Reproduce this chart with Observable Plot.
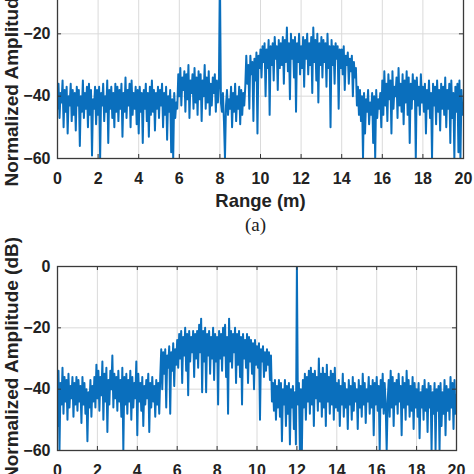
<!DOCTYPE html>
<html><head><meta charset="utf-8">
<script src="https://cdn.jsdelivr.net/npm/d3@7"></script>
<script src="https://cdn.jsdelivr.net/npm/@observablehq/plot@0.6"></script>
<style>
body{margin:0;background:#fff}
#c{position:relative;width:474px;height:474px;overflow:hidden;background:#fff}
#c svg{position:absolute;left:0}
</style>
</head><body><div id="c"></div>
<script>
// Range samples every 0.05 m from 0 to 20 m (one row per metre)
const rangeStep = 0.05;

// Panel (a): normalized amplitude (dB), target spike at 8 m
const ampA = [
 -44,-36,-47,-39,-42,-35,-50,-38,-45,-37,-52,-40,-43,-36,-48,-38,-46,-39,-51,-37,
 -43,-38,-56,-40,-45,-35,-47,-39,-44,-37,-50,-36,-46,-38,-59,-41,-44,-37,-49,-38,
 -46,-37,-60,-39,-43,-36,-48,-40,-45,-35,-55,-38,-44,-37,-47,-39,-50,-36,-45,-37,
 -48,-38,-44,-36,-53,-39,-45,-34,-47,-38,-43,-36,-50,-35,-46,-39,-44,-37,-49,-38,
 -52,-37,-45,-39,-55,-38,-44,-36,-48,-39,-53,-37,-46,-35,-45,-38,-51,-39,-44,-37,
 -47,-38,-43,-36,-50,-39,-46,-37,-54,-40,-45,-38,-58,-41,-60,-39,-47,-42,-44,-33,
 -40,-31,-43,-34,-38,-32,-45,-33,-41,-30,-47,-35,-39,-33,-44,-31,-42,-34,-46,-32,
 -41,-33,-48,-35,-40,-30,-44,-34,-42,-32,-46,-36,-43,-34,-39,-33,-45,-35,-42,-37,
 0,-42,-45,-39,-48,-60,-43,-38,-46,-41,-44,-37,-50,-39,-45,-36,-48,-40,-44,-37,
 -49,-38,-46,-39,-43,-37,-27,-36,-30,-44,-27,-33,-29,-48,-28,-35,-26,-52,-27,-31,
 -25,-34,-24,-29,-23,-40,-25,-31,-22,-46,-24,-30,-23,-35,-21,-28,-24,-38,-22,-31,
 -23,-30,-21,-36,-22,-29,-18,-32,-23,-41,-20,-28,-22,-34,-21,-45,-23,-29,-20,-33,
 -24,-31,-21,-37,-22,-28,-20,-33,-23,-30,-21,-39,-18,-29,-22,-35,-20,-42,-23,-30,
 -21,-34,-22,-29,-23,-37,-20,-31,-24,-50,-22,-30,-24,-36,-23,-28,-24,-44,-25,-31,
 -25,-33,-24,-38,-27,-30,-26,-36,-28,-32,-27,-40,-29,-34,-31,-43,-37,-46,-38,-48,
 -40,-60,-39,-52,-41,-45,-38,-49,-42,-46,-39,-55,-40,-60,-38,-47,-41,-44,-39,-50,
 -35,-46,-32,-43,-36,-48,-33,-41,-35,-52,-32,-44,-37,-40,-34,-47,-31,-43,-36,-45,
 -33,-49,-35,-42,-32,-46,-34,-55,-36,-44,-33,-41,-35,-60,-34,-43,-37,-46,-33,-42,
 -37,-45,-36,-52,-38,-44,-35,-47,-39,-60,-36,-43,-37,-49,-35,-45,-38,-51,-36,-44,
 -37,-46,-34,-50,-38,-44,-36,-55,-35,-47,-39,-60,-37,-45,-36,-58,-35,-60,-38,-46,
 -44
];

// Panel (b): normalized amplitude (dB), target spike at 12 m
const ampB = [
 -52,-34,-60,-38,-45,-33,-48,-36,-44,-37,-50,-35,-46,-39,-43,-36,-49,-38,-45,-36,
 -47,-37,-44,-39,-51,-36,-45,-38,-48,-40,-57,-41,-46,-37,-49,-39,-44,-36,-46,-32,
 -43,-34,-47,-36,-42,-31,-50,-35,-44,-33,-54,-37,-45,-34,-40,-29,-46,-35,-43,-36,
 -47,-34,-44,-37,-49,-33,-60,-36,-45,-35,-48,-37,-44,-34,-50,-36,-46,-38,-43,-31,
 -55,-35,-44,-38,-47,-36,-52,-39,-45,-37,-43,-35,-54,-38,-46,-36,-44,-39,-49,-37,
 -45,-38,-48,-36,-27,-40,-28,-35,-27,-46,-29,-33,-26,-48,-28,-34,-25,-39,-27,-32,
 -24,-33,-22,-30,-21,-38,-23,-29,-20,-34,-22,-42,-21,-31,-23,-28,-21,-36,-22,-30,
 -21,-33,-19,-28,-17,-41,-21,-31,-20,-41,-22,-29,-21,-35,-23,-30,-20,-37,-22,-31,
 -23,-45,-21,-30,-22,-34,-20,-29,-19,-36,-23,-48,-17,-31,-21,-33,-22,-28,-20,-38,
 -22,-32,-21,-36,-23,-45,-22,-30,-24,-33,-22,-38,-23,-31,-24,-35,-25,-40,-24,-32,
 -26,-33,-25,-50,-27,-31,-26,-36,-28,-34,-27,-32,-28,-37,-29,-44,-38,-47,-37,-50,
 -39,-46,-37,-49,-38,-57,-40,-45,-37,-52,-39,-48,-38,-58,-40,-46,-39,-53,-41,-58,
 0,-45,-38,-60,-40,-60,-37,-46,-35,-50,-36,-44,-34,-48,-33,-45,-35,-52,-34,-43,
 -36,-47,-30,-44,-35,-49,-33,-46,-35,-52,-32,-44,-36,-48,-34,-45,-35,-50,-33,-46,
 -38,-47,-37,-52,-39,-45,-35,-49,-38,-46,-40,-53,-37,-45,-39,-50,-36,-47,-38,-44,
 -40,-53,-37,-46,-39,-49,-35,-45,-38,-51,-40,-44,-36,-48,-39,-46,-37,-55,-38,-45,
 -36,-47,-39,-60,-37,-46,-35,-48,-38,-45,-60,-44,-37,-49,-34,-46,-36,-52,-38,-45,
 -37,-48,-35,-44,-39,-55,-36,-46,-38,-50,-34,-45,-37,-49,-39,-47,-36,-53,-38,-46,
 -40,-49,-38,-56,-41,-46,-39,-50,-37,-47,-40,-54,-38,-46,-39,-60,-41,-48,-38,-60,
 -40,-47,-39,-60,-38,-52,-41,-48,-37,-55,-39,-47,-40,-50,-36,-46,-38,-53,-37,-48,
 -42
];

const xTicks = [0,2,4,6,8,10,12,14,16,18,20];
const yTicks = [-60,-40,-20,0];
const xLabel = "Range (m)";
const yLabel = "Normalized Amplitude (dB)";
const captionA = "(a)";

function panel(amp, o) {
  const data = amp.map((v, i) => ({range: +(i * rangeStep).toFixed(2), amp: v}));
  const marks = [
    Plot.gridX(xTicks, {stroke: "#dadada", strokeOpacity: 1, strokeWidth: 1}),
    Plot.gridY(yTicks, {stroke: "#dadada", strokeOpacity: 1, strokeWidth: 1}),
    Plot.line(data, {x: "range", y: "amp", stroke: "#0a6fbd", strokeWidth: 2, clip: true}),
    Plot.ruleX(xTicks, {y1: -60, y2: -60 + o.tickY, stroke: "#333"}),
    Plot.ruleX(xTicks, {y1: 0, y2: -o.tickY, stroke: "#333"}),
    Plot.ruleY(yTicks, {x1: 0, x2: 0.2, stroke: "#333"}),
    Plot.ruleY(yTicks, {x1: 20, x2: 19.8, stroke: "#333"}),
    Plot.frame({stroke: "#3a3a3a", strokeWidth: 1.3}),
    Plot.axisX(xTicks, {tickSize: 0, tickPadding: 14, fontSize: 16, fontWeight: "bold", label: null}),
    Plot.axisY(yTicks, {tickSize: 0, tickPadding: 7, fontSize: 16, fontWeight: "bold", label: null}),
    Plot.text([yLabel], {frameAnchor: "left", textAnchor: "middle", rotate: -90, dx: -40, lineAnchor: "bottom", fontSize: 19, fontWeight: "bold"})
  ];
  if (o.caption) {
    marks.push(Plot.text([xLabel], {frameAnchor: "bottom", textAnchor: "middle", dy: 48, lineAnchor: "bottom", fontSize: 18.5, fontWeight: "bold"}));
    marks.push(Plot.text([o.caption], {frameAnchor: "bottom", textAnchor: "middle", dx: -5, dy: 72, lineAnchor: "bottom", fontSize: 19, fontFamily: "Liberation Serif, Times New Roman, serif"}));
  }
  const svg = Plot.plot({
    width: 474,
    height: o.height,
    marginTop: 10,
    marginLeft: 57,
    marginRight: o.marginRight,
    marginBottom: o.marginBottom,
    x: {domain: [0, 20], axis: null},
    y: {domain: [-60, 0], axis: null},
    style: {fontFamily: "Liberation Sans, Arial, sans-serif", color: "#222", background: "transparent", overflow: "visible"},
    marks
  });
  svg.style.top = o.top + "px";
  return svg;
}

const c = document.getElementById("c");
c.appendChild(panel(ampA, {top: -39, height: 280, marginRight: 11, marginBottom: 83, tickY: 1.28, caption: captionA}));
c.appendChild(panel(ampB, {top: 256, height: 234, marginRight: 18, marginBottom: 40, tickY: 1.3}));
</script>
</body></html>
